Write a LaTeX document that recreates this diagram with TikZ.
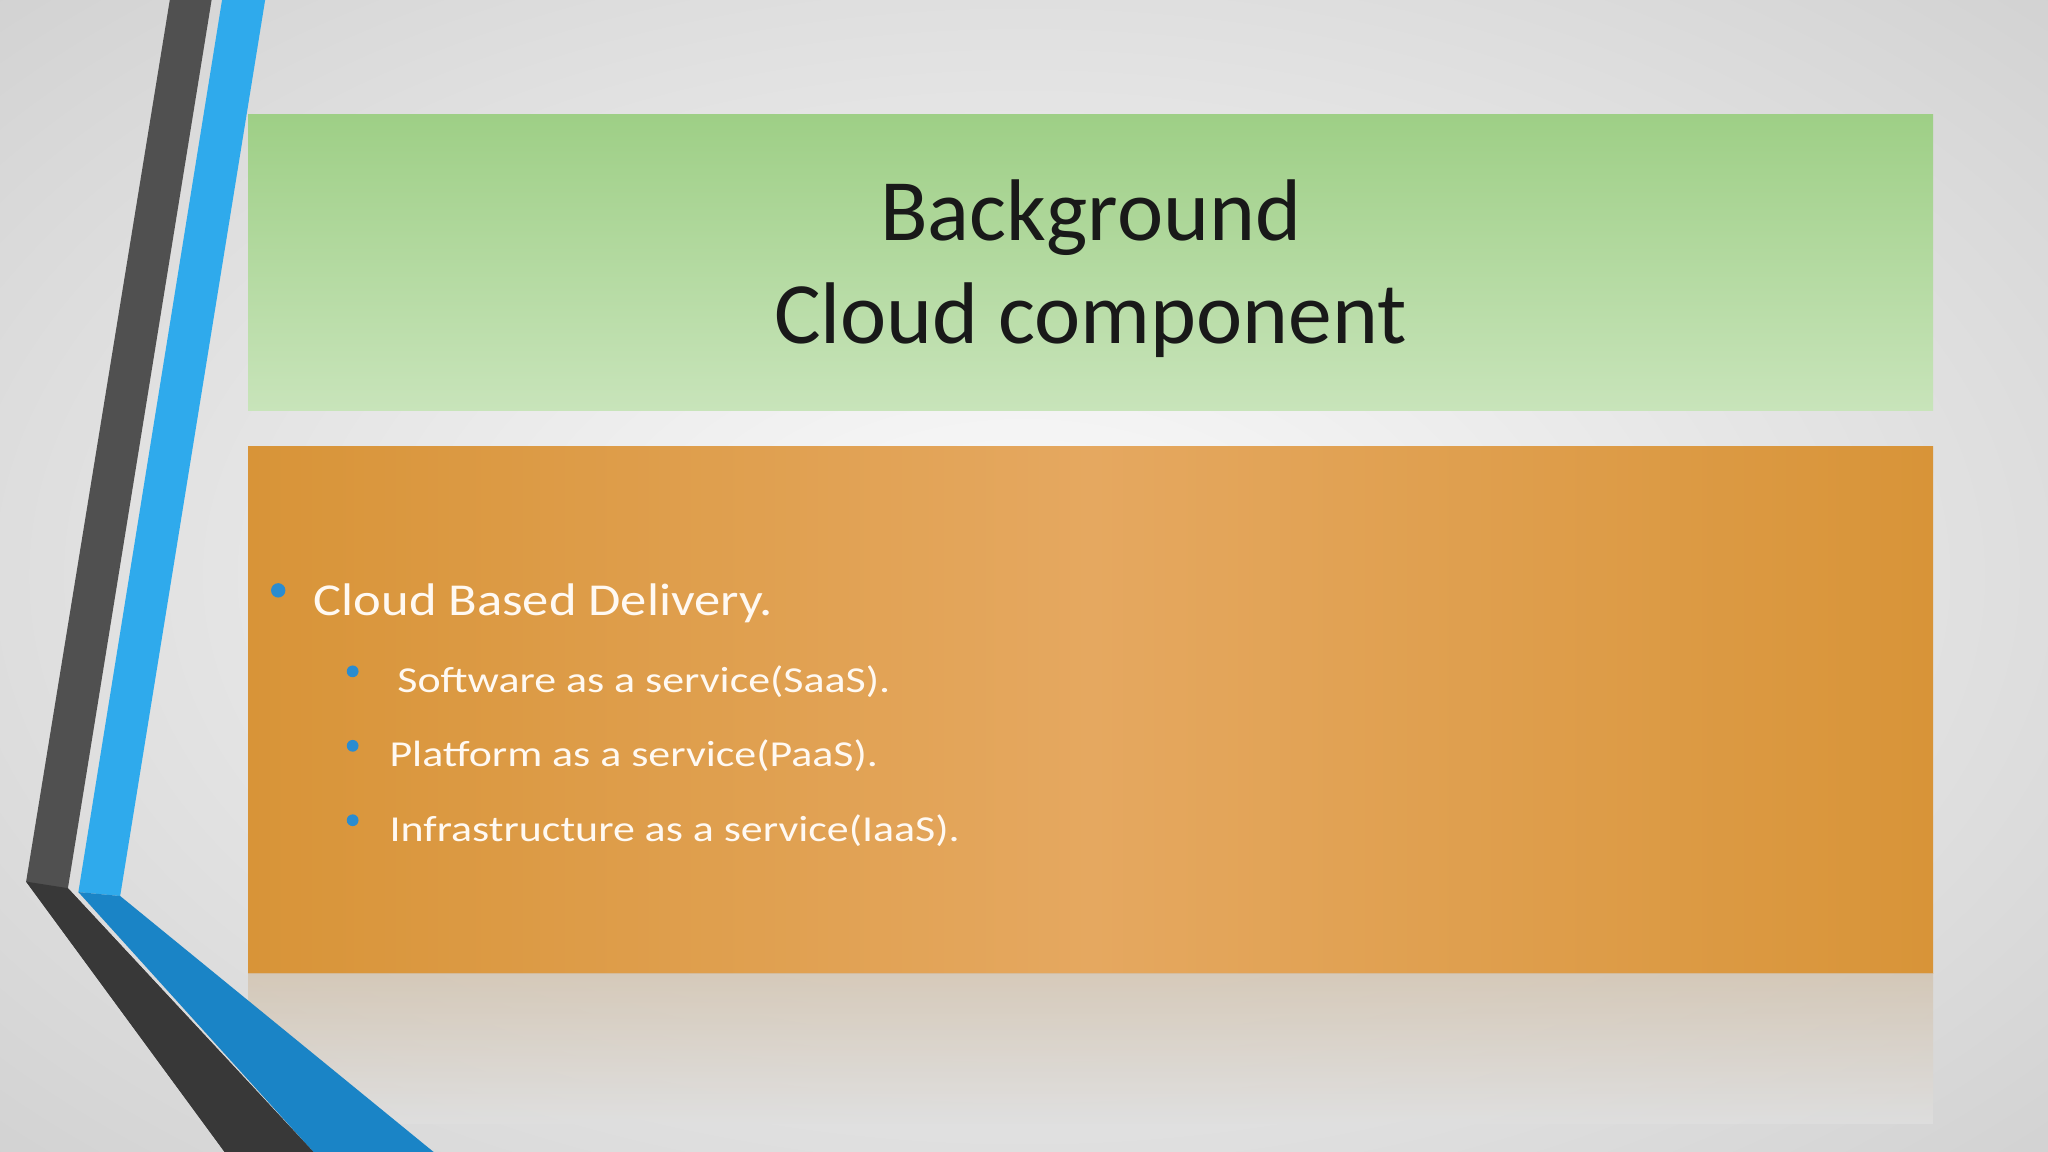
\documentclass[tikz,border=0pt]{standalone}
\usepackage{fontspec}
\setmainfont{Carlito}
\begin{document}
\begin{tikzpicture}[x=1pt,y=-1pt,
  title/.style={font=\fontsize{67}{80}\selectfont,text=black!90},
  lvlone/.style={anchor=base west,inner sep=0,font=\fontsize{35}{40}\selectfont,text=white!95!orange,transform shape,xscale=1.15},
  lvltwo/.style={anchor=base west,inner sep=0,font=\fontsize{28}{32}\selectfont,text=white!95!orange,transform shape,xscale=1.2},
  dot/.style={circle,fill=bulletblue,inner sep=0,minimum size=11pt}]
\definecolor{bulletblue}{HTML}{2A8CD0}
\definecolor{stripeblue}{HTML}{2FAAEC}
\definecolor{stripeblue2}{HTML}{1A84C6}
\definecolor{stripegray}{HTML}{505050}
\useasboundingbox (0,0) rectangle (1568,882);
\shade[inner color=white!97!gray, outer color=gray!35] (-300,-200) rectangle (1868,1082);
% green title box
\shade[top color={rgb,255:red,158;green,207;blue,134}, bottom color={rgb,255:red,200;green,228;blue,186}] (190,88) rectangle (1480,314);
% orange box
\shade[left color={rgb,255:red,216;green,148;blue,56}, right color={rgb,255:red,216;green,148;blue,56}, middle color={rgb,255:red,229;green,168;blue,96}] (190,342) rectangle (1480,745);
% reflection
\shade[top color={rgb,255:red,210;green,195;blue,175}, bottom color=gray!25, opacity=0.8] (190,745) rectangle (1480,860);
% stripes
\fill[stripegray] (130,0) -- (162,0) -- (52,680) -- (240,882) -- (172,882) -- (20,675) -- cycle;
\fill[stripeblue] (170,0) -- (203,0) -- (92,686) -- (60,683) -- cycle;
\fill[stripeblue2] (60,683) -- (92,686) -- (332,882) -- (240,882) -- cycle;
\fill[stripegray!70!black] (20,675) -- (52,680) -- (240,882) -- (172,882) -- cycle;
% titles
\node[title] (t1) at (835,167) {Background};
\node[title] (t2) at (835,245) {Cloud component};
% bullets
\node[dot] (d1) at (213,452) {};
\node[lvlone] (b1) at (240,471) {Cloud Based Delivery.};
\node[dot,minimum size=9pt] (d2) at (270,514) {};
\node[lvltwo] (b2) at (304,530) {Software as a service(SaaS).};
\node[dot,minimum size=9pt] (d3) at (270,571) {};
\node[lvltwo] (b3) at (298,587) {Platform as a service(PaaS).};
\node[dot,minimum size=9pt] (d4) at (270,628) {};
\node[lvltwo] (b4) at (298,644) {Infrastructure as a service(IaaS).};
\end{tikzpicture}
\end{document}
